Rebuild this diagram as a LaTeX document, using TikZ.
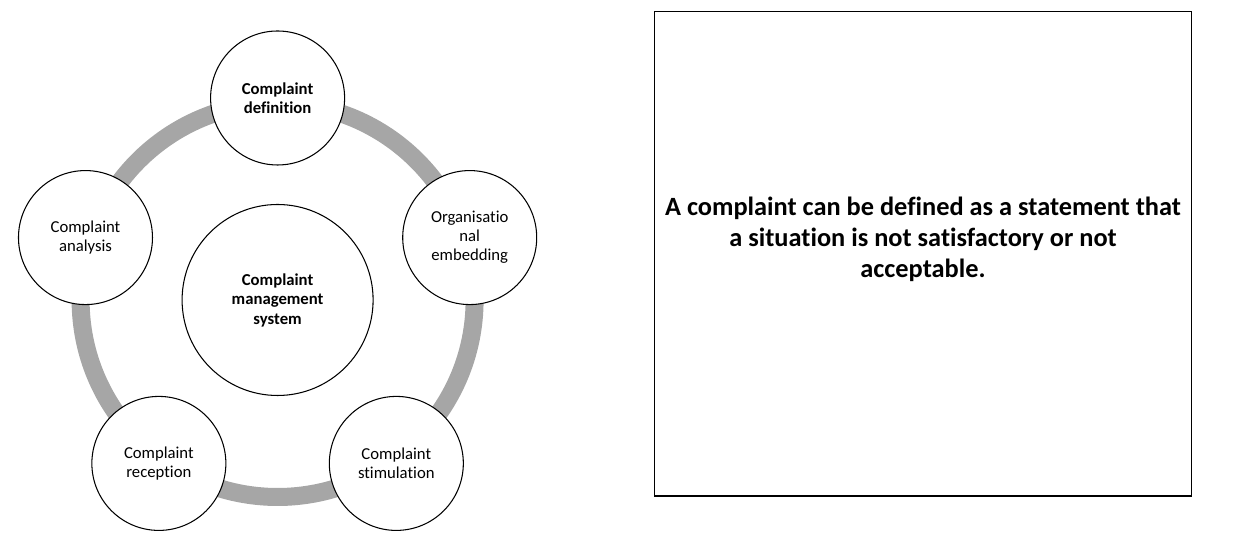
\documentclass[tikz,border=0pt]{standalone}
\usepackage{fontspec}
\setmainfont[Ligatures={NoCommon}]{Carlito}
\usepackage{xcolor}
\usepackage{tikz}
\usetikzlibrary{shapes.geometric}
\definecolor{ringgray}{RGB}{166,166,166}
\tikzstyle{stage} = [circle, minimum size=2.68cm, inner sep=0pt, text centered, align=center, draw=black, line width=0.6pt, fill=white, font=\fontsize{9.5}{10.8}\selectfont]
\tikzstyle{stagebold} = [stage, font=\bfseries\fontsize{9.5}{10.8}\selectfont]
\tikzstyle{core} = [stagebold, minimum size=3.82cm, font=\bfseries\fontsize{9.5}{11.1}\selectfont]
\tikzstyle{ring} = [line width=0.36cm, draw=ringgray]
\tikzstyle{defbox} = [rectangle, minimum width=10.74cm, minimum height=9.69cm, draw=black, line width=0.6pt]
\tikzstyle{deftext} = [text centered, align=center, font=\bfseries\fontsize{15}{17.6}\selectfont]

\begin{document}
\begin{tikzpicture}
\useasboundingbox (-5.552,-5.04) rectangle (19.208,6.0);
\node (cms) [core] at (0,0) {Complaint\\management\\system};
\draw [ring] (cms.center) circle (3.94cm);
\node (definition) [stagebold] at (90:4.04) {Complaint\\definition};
\node (embedding) [stage] at (18:4.04) {Organisatio\\nal\\embedding};
\node (stimulation) [stage] at (-54:4.04) {Complaint\\stimulation};
\node (reception) [stage] at (234:4.04) {Complaint\\reception};
\node (analysis) [stage] at (162:4.04) {Complaint\\analysis};

\node (defbox) [defbox] at (12.908,0.925) {};
\node (deftext) [deftext] at ([yshift=0.28cm]defbox.center) {A complaint can be defined as a statement that\\a situation is not satisfactory or not\\acceptable.};
\end{tikzpicture}
\end{document}
